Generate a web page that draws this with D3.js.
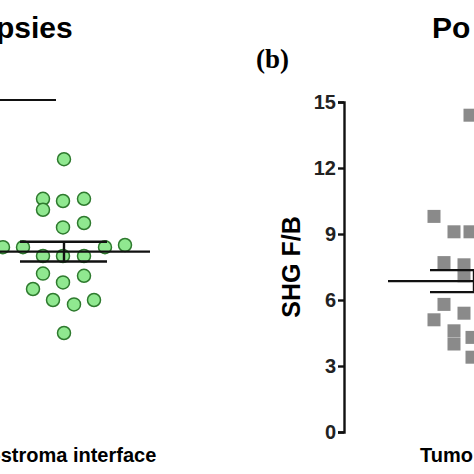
<!DOCTYPE html><html><head><script src="https://cdn.jsdelivr.net/npm/d3@7"></script>
<style>body{margin:0;background:#fff}</style></head><body><svg id="c" width="474" height="474"></svg>
<script>
const leftVals=[12.4,10.6,10.1,10.5,10.6,9.3,9.5,8.4,8.4,8.4,8.5,8.0,8.0,8.0,7.2,6.8,7.1,6.5,6.0,5.8,6.0,4.5];
const leftX=[64,43,43,63,84,63,84,3,23,105,125,43,63,84,43,63,84,33,53,74,94,64];
const rightVals=[14.4,9.8,9.1,9.1,7.7,7.6,7.1,5.8,5.4,5.1,4.6,4.0,4.3,3.4];
const rightX=[470,434,454,470,444,464,464,444,464,434,454,454,472,472];
const leftStats={mean:8.2,sem:0.45}, rightStats={mean:6.86,sem:0.5};
const ticks=[0,3,6,9,12,15];
const svg=d3.select("#c");
const y=d3.scaleLinear().domain([0,15]).range([432,102]);
const F="Arial, Liberation Sans, sans-serif";
svg.append("g").attr("transform","translate(344,0)").call(d3.axisLeft(y).tickValues(ticks).tickSize(6).tickPadding(2))
 .call(g=>{g.selectAll("text").attr("font-family",F).attr("font-weight","bold").attr("font-size",20).attr("fill","#222");
 g.selectAll("line,path").attr("stroke","#111").attr("stroke-width",2.4);});
svg.append("text").attr("transform","translate(300,267) rotate(-90)").attr("text-anchor","middle")
 .attr("font-family",F).attr("font-weight","bold").attr("font-size",25).text("SHG F/B");
svg.append("text").attr("x",-4).attr("y",38).attr("font-family",F).attr("font-weight","bold").attr("font-size",30).text("psies");
svg.append("text").attr("x",432).attr("y",38).attr("font-family",F).attr("font-weight","bold").attr("font-size",30).text("Po");
svg.append("text").attr("x",256).attr("y",68).attr("font-family","Liberation Serif, serif").attr("font-weight","bold").attr("font-size",27).text("(b)");
svg.append("line").attr("x1",0).attr("x2",56).attr("y1",100).attr("y2",100).attr("stroke","#111").attr("stroke-width",2);
svg.append("g").selectAll("circle").data(leftVals).join("circle").attr("cx",(d,i)=>leftX[i]).attr("cy",d=>y(d)).attr("r",6.5)
 .attr("fill","#90e890").attr("stroke","#2e7a2e").attr("stroke-width",1.5);
function stats(s,x1,x2,c1,c2,cx){
 const g=svg.append("g").attr("stroke","#111").attr("stroke-width",2.4);
 g.append("line").attr("x1",x1).attr("x2",x2).attr("y1",y(s.mean)).attr("y2",y(s.mean));
 [s.mean+s.sem,s.mean-s.sem].forEach(v=>g.append("line").attr("x1",c1).attr("x2",c2).attr("y1",y(v)).attr("y2",y(v)));
 g.append("line").attr("x1",cx).attr("x2",cx).attr("y1",y(s.mean+s.sem)).attr("y2",y(s.mean-s.sem));
}
stats(leftStats,0,150,20,107,64);
svg.append("g").selectAll("rect").data(rightVals).join("rect").attr("x",(d,i)=>rightX[i]-6.5).attr("y",d=>y(d)-6.5)
 .attr("width",13).attr("height",13).attr("fill","#8a8a8a");
stats(rightStats,388,480,430,480,474);
svg.append("text").attr("x",-6).attr("y",462).attr("font-family",F).attr("font-weight","bold").attr("font-size",20).text("-stroma interface");
svg.append("text").attr("x",420).attr("y",462).attr("font-family",F).attr("font-weight","bold").attr("font-size",20).text("Tumo");
</script></body></html>
